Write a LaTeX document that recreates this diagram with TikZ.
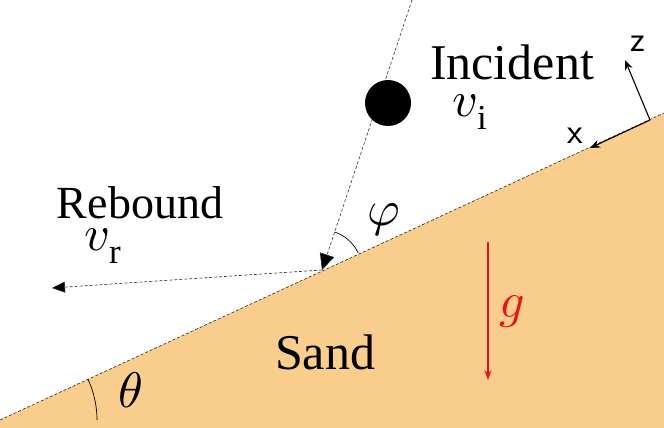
\documentclass[tikz,border=0pt]{standalone}
\usepackage{fontspec}
\usepackage{unicode-math}
\setmainfont{Liberation Serif}
\setmathfont{Latin Modern Math}
\usetikzlibrary{arrows.meta}
\definecolor{sand}{HTML}{F9CE8C}
\definecolor{gred}{HTML}{E8141B}
\tikzset{
 dot/.style={densely dashed,gray!30!black,line width=0.6pt},
 lbl/.style={inner sep=0pt,font=\fontsize{50}{52}\selectfont},
 ax/.style={-{Stealth[length=10pt,width=8pt]},line width=1.1pt},
 axl/.style={inner sep=0pt,font=\sffamily\fontsize{36}{36}\selectfont}
}
\begin{document}
\begin{tikzpicture}[x=1pt,y=-1pt]
\useasboundingbox (0,0) rectangle (664,428);
\coordinate (bl) at (0,420);
\coordinate (tr) at (664,113);
\coordinate (hit) at (322,270);
\coordinate (src) at (412,0);
\coordinate (out) at (52,288);
\coordinate (o) at (650,120);
\coordinate (xe) at (590,148);
\coordinate (ze) at (625,60);
\fill[sand] (0,420) -- (664,113) -- (664,428) -- (0,428) -- cycle;
\draw[dot] (bl) -- (tr);
\draw[dot,-{Triangle[length=16pt,width=15pt,fill=black]}] (src) -- (hit);
\draw[dot,-{Triangle[length=13pt,width=11pt,fill=black]}] (hit) -- (out);
\node[circle,fill=black,minimum size=46pt,inner sep=0pt] (ball) at (388,103) {};
\draw[line width=0.7pt] (358.3,253.2) arc[start angle=-24.8,end angle=-71.6,radius=40];
\draw[line width=0.7pt] (97,420) arc[start angle=0,end angle=-24.8,radius=97];
\node[lbl] (inc) at (512,62) {Incident};
\node[lbl] (vi) at (470,112) {$v_{\mathrm{i}}$};
\node[lbl,font=\fontsize{46}{48}\selectfont] (reb) at (140,203) {Rebound};
\node[lbl] (vr) at (103,246) {$v_{\mathrm{r}}$};
\node[lbl] (phi) at (384,220) {$\varphi$};
\node[lbl] (th) at (131,390) {$\theta$};
\node[lbl] (sand) at (325,352) {Sand};
\coordinate (g1) at (488,242);
\coordinate (g2) at (488,380);
\draw[gred,line width=1.2pt,-{Stealth[length=10pt,width=7pt]}] (g1) -- (g2);
\node[lbl,text=gred] (g) at (512,312) {$g$};
\draw[ax] (o) -- (xe);
\draw[ax] (o) -- (ze);
\node[axl] (xl) at (575,136) {x};
\node[axl] (zl) at (638,44) {z};
\end{tikzpicture}
\end{document}
